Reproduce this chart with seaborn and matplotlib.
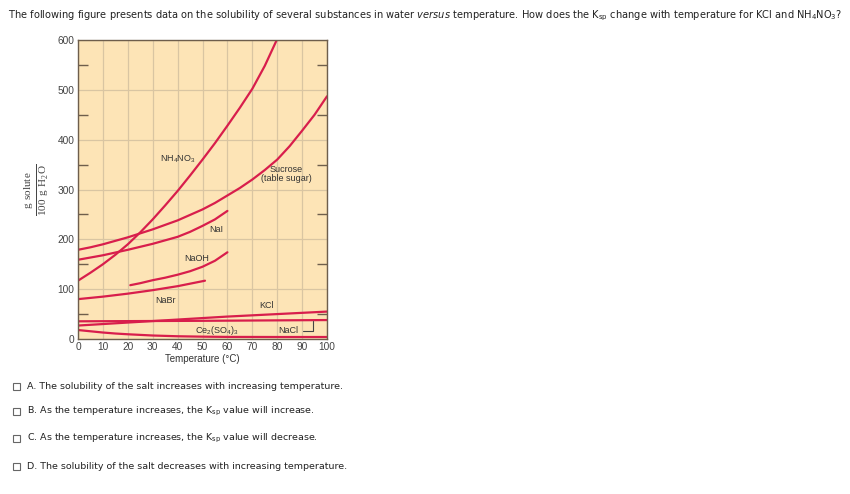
import matplotlib
matplotlib.use("Agg")
import matplotlib.pyplot as plt
import numpy as np
import pandas as pd
import seaborn as sns
from matplotlib.patches import Rectangle

# solubility curves, g solute / 100 g H2O
nh4no3_t = [0, 5, 10, 15, 20, 25, 30, 35, 40, 45, 50, 55, 60, 65, 70, 75, 80]
nh4no3_v = [117, 133, 150, 169, 190, 214, 240, 268, 297, 328, 360, 393, 428, 464, 502, 548, 602]
sucrose_t = [0, 5, 10, 15, 20, 25, 30, 35, 40, 45, 50, 55, 60, 65, 70, 75, 80, 85, 90, 95, 100]
sucrose_v = [179, 184, 190, 197, 204, 212, 220, 229, 238, 249, 260, 273, 288, 303, 320, 339, 360, 387, 418, 450, 487]
nai_t = [0, 10, 20, 30, 40, 45, 50, 55, 60]
nai_v = [159, 168, 179, 191, 205, 215, 227, 240, 257]
naoh_t = [21, 25, 30, 35, 40, 45, 50, 55, 60]
naoh_v = [108, 112, 118, 123, 129, 136, 145, 157, 174]
nabr_t = [0, 10, 20, 30, 40, 51]
nabr_v = [80, 85, 91, 98, 106, 117]
kcl_t = [0, 20, 40, 60, 80, 100]
kcl_v = [27, 33, 39, 45, 50, 55]
nacl_t = [0, 50, 100]
nacl_v = [35.5, 36.5, 38]
ce_t = [0, 5, 10, 15, 20, 30, 40, 50, 60, 80, 100]
ce_v = [18, 15.5, 13, 11, 9.5, 7, 5.5, 4.7, 4.2, 4, 4]

curve_labels = ["NH$_{\\mathregular{4}}$NO$_{\\mathregular{3}}$", "Sucrose\n(table sugar)", "NaI", "NaOH",
                "NaBr", "KCl", "Ce$_{\\mathregular{2}}$(SO$_{\\mathregular{4}}$)$_{\\mathregular{3}}$", "NaCl"]
label_t = [40, 83.5, 55.4, 47.7, 35, 75.8, 55.7, 84.5]
label_v = [361, 331, 219, 162, 78, 68, 18, 17]

question = ("The following figure presents data on the solubility of several substances in water $\\mathit{versus}$ "
            "temperature. How does the K$_{\\mathregular{sp}}$ change with temperature for KCl and "
            "NH$_{\\mathregular{4}}$NO$_{\\mathregular{3}}$?")
options = [
    "A. The solubility of the salt increases with increasing temperature.",
    "B. As the temperature increases, the K$_{\\mathregular{sp}}$ value will increase.",
    "C. As the temperature increases, the K$_{\\mathregular{sp}}$ value will decrease.",
    "D. The solubility of the salt decreases with increasing temperature.",
]

series = {
    "NH4NO3": (nh4no3_t, nh4no3_v), "Sucrose": (sucrose_t, sucrose_v), "NaI": (nai_t, nai_v),
    "NaOH": (naoh_t, naoh_v), "NaBr": (nabr_t, nabr_v), "KCl": (kcl_t, kcl_v),
    "NaCl": (nacl_t, nacl_v), "Ce2(SO4)3": (ce_t, ce_v),
}
df = pd.concat(
    [pd.DataFrame({"substance": k, "temp": t, "sol": v}) for k, (t, v) in series.items()],
    ignore_index=True,
)

sns.set_theme(style="white")
plt.rcParams["font.family"] = ["DejaVu Sans"]
# serif roman for the y-axis fraction, sans italic for "versus"
plt.rcParams["mathtext.fontset"] = "custom"
plt.rcParams["mathtext.rm"] = "Liberation Serif"
plt.rcParams["mathtext.it"] = "DejaVu Sans:italic"

RED = "#d81e4c"
FRAME = "#6e5e4c"
GRID = "#d9c5a2"

fig = plt.figure(figsize=(8.5, 4.94), dpi=100)
ax = fig.add_axes([78 / 850, 1 - 339 / 494, 249 / 850, 299 / 494])
ax.set_facecolor("#fde4b6")

sns.lineplot(data=df, x="temp", y="sol", units="substance", estimator=None,
             color=RED, lw=1.6, ax=ax, legend=False, sort=True)

ax.set_xlim(0, 100)
ax.set_ylim(0, 600)
ax.set_xticks(np.arange(0, 101, 10))
ax.set_yticks(np.arange(0, 601, 100))
ax.set_yticks(np.arange(50, 600, 100), minor=True)
ax.grid(True, which="major", color=GRID, lw=0.9)
ax.set_axisbelow(True)
ax.tick_params(which="major", length=0, pad=2.5, labelsize=7.3, labelcolor="#444444")
ax.tick_params(which="minor", axis="y", direction="in", length=7, width=1,
               color=FRAME, left=True, right=True)
for lab in ax.get_xticklabels() + ax.get_yticklabels():
    lab.set_family("Liberation Sans")
for sp in ax.spines.values():
    sp.set_color(FRAME)
    sp.set_linewidth(1)

ax.set_xlabel("Temperature (\u00b0C)", fontsize=7, family="Liberation Sans", color="#333333", labelpad=1)
ax.set_ylabel(r"$\frac{\mathrm{g\ solute}}{\mathrm{100\ g\ H_2O}}$", fontsize=11.5, color="#444444", labelpad=5)

for txt, t, v in zip(curve_labels, label_t, label_v):
    if txt == "NaCl":
        ax.annotate(txt, xy=(94.5, 36.5), xytext=(t, v), fontsize=6.5, family="Liberation Sans",
                    color="#333333", ha="center", va="center",
                    arrowprops=dict(arrowstyle="-", color="#444444", lw=0.8, shrinkA=1, shrinkB=0,
                                    relpos=(1, 0.5), connectionstyle="angle,angleA=0,angleB=90,rad=0"))
    else:
        ax.text(t, v, txt, fontsize=6.5, family="Liberation Sans", color="#333333",
                ha="center", va="center", linespacing=1.0)

fig.text(8 / 850, 1 - 16 / 494, question, fontsize=7.1, color="#222222", va="center", ha="left")

for j, opt in enumerate(options):
    y = 1 - [386, 411, 438, 466][j] / 494
    fig.patches.append(Rectangle((13 / 850, y - 3.5 / 494), 7 / 850, 7 / 494, transform=fig.transFigure,
                                 fill=False, edgecolor="#666666", lw=0.8))
    fig.text(27 / 850, y, opt, fontsize=6.8, color="#222222", va="center", ha="left")

fig.savefig("out.png", dpi=100)
